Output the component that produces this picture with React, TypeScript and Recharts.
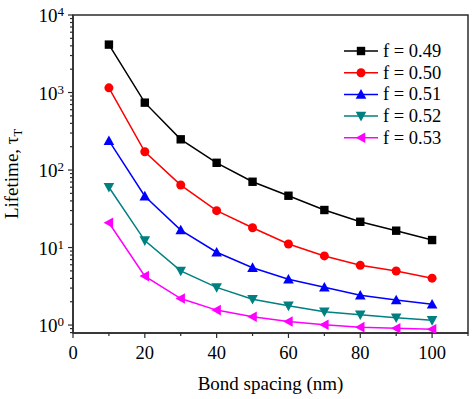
import React from "react";
import { LineChart, Line, XAxis, YAxis, ReferenceArea, Legend } from "recharts";

const spacing = [10, 20, 30, 40, 50, 60, 70, 80, 90, 100];
const f049 = [4150, 740, 249, 124, 70.6, 46.6, 30.5, 21.5, 16.5, 12.5];
const f050 = [1150, 172, 64, 29.9, 18, 11.1, 7.8, 5.9, 4.98, 4.03];
const f051 = [239, 46, 16.8, 8.7, 5.5, 3.9, 3.07, 2.42, 2.1, 1.85];
const f052 = [60, 12.3, 5.0, 3.06, 2.15, 1.77, 1.49, 1.36, 1.24, 1.15];
const f053 = [20.9, 4.28, 2.2, 1.56, 1.28, 1.11, 1.01, 0.94, 0.91, 0.885];

const xTicks = [0, 10, 20, 30, 40, 50, 60, 70, 80, 90, 100, 110];
const yTicks = [
  0.8, 0.9, 1, 2, 3, 4, 5, 6, 7, 8, 9, 10, 20, 30, 40, 50, 60, 70, 80, 90,
  100, 200, 300, 400, 500, 600, 700, 800, 900, 1000, 2000, 3000, 4000, 5000,
  6000, 7000, 8000, 9000, 10000,
];

const series = [
  { key: "f049", name: "f = 0.49", color: "#000000", shape: "square" },
  { key: "f050", name: "f = 0.50", color: "#ff0000", shape: "circle" },
  { key: "f051", name: "f = 0.51", color: "#0000ff", shape: "up" },
  { key: "f052", name: "f = 0.52", color: "#008080", shape: "down" },
  { key: "f053", name: "f = 0.53", color: "#ff00ff", shape: "left" },
];

const data = spacing.map((x, i) => ({
  x,
  f049: f049[i],
  f050: f050[i],
  f051: f051[i],
  f052: f052[i],
  f053: f053[i],
}));

const AXIS = "#2b2b2b";
const FONT = "'Liberation Serif', 'Times New Roman', serif";

function Marker({ cx, cy, shape, color }: any) {
  if (cx == null || cy == null) return null;
  if (shape === "square") {
    return <rect x={cx - 4.2} y={cy - 4.2} width={8.4} height={8.4} fill={color} />;
  }
  if (shape === "circle") {
    return <circle cx={cx} cy={cy} r={4.5} fill={color} />;
  }
  const s = 5.3;
  let pts = "";
  if (shape === "up") pts = `${cx},${cy - s} ${cx + s},${cy + s * 0.8} ${cx - s},${cy + s * 0.8}`;
  if (shape === "down") pts = `${cx},${cy + s} ${cx + s},${cy - s * 0.8} ${cx - s},${cy - s * 0.8}`;
  if (shape === "left") pts = `${cx - s},${cy} ${cx + s * 0.8},${cy - s} ${cx + s * 0.8},${cy + s}`;
  return <polygon points={pts} fill={color} />;
}

function YTick(props: any) {
  const { x, y, payload } = props;
  const lg = Math.log10(payload.value);
  const exp = Math.round(lg);
  const major = Math.abs(lg - exp) < 1e-6;
  return (
    <g>
      <line x1={x - (major ? 5 : 3)} x2={x} y1={y} y2={y} stroke={AXIS} strokeWidth={1.2} />
      {major && (
        <text x={x - 9} y={y + 7} textAnchor="end" fontSize={19} fontFamily={FONT} fill="#000">
          10
          <tspan fontSize={13} dy={-6}>
            {exp}
          </tspan>
        </text>
      )}
    </g>
  );
}

function XTick(props: any) {
  const { x, y, payload } = props;
  const major = payload.value % 20 === 0 && payload.value <= 100;
  return (
    <g>
      <line x1={x} x2={x} y1={y} y2={y + (major ? 5 : 3)} stroke={AXIS} strokeWidth={1.2} />
      {major && (
        <text x={x} y={y + 26} textAnchor="middle" fontSize={18.5} fontFamily={FONT} fill="#000">
          {payload.value}
        </text>
      )}
    </g>
  );
}

function YLabel({ viewBox }: any) {
  const cy = viewBox.y + viewBox.height / 2;
  const x = 18;
  return (
    <text
      x={x}
      y={cy}
      transform={`rotate(-90, ${x}, ${cy})`}
      textAnchor="middle"
      fontSize={19}
      fontFamily={FONT}
      fill="#000"
    >
      Lifetime, τ
      <tspan fontSize={12.5} dy={4}>
        T
      </tspan>
    </text>
  );
}

function LegendBox() {
  return (
    <svg width={120} height={110}>
      {series.map((s, i) => {
        const cy = 11 + i * 21.7;
        return (
          <g key={s.key}>
            <line x1={4} x2={38} y1={cy} y2={cy} stroke={s.color} strokeWidth={1.5} />
            <Marker cx={21} cy={cy} shape={s.shape} color={s.color} />
            <text x={43} y={cy + 6} fontSize={18.5} fontFamily={FONT} fill="#000">
              {s.name}
            </text>
          </g>
        );
      })}
    </svg>
  );
}

export default function App() {
  return (
    <div style={{ width: 474, height: 399, background: "#fff" }}>
      <style>{"body{margin:0}"}</style>
      <LineChart
        width={474}
        height={399}
        data={data}
        margin={{ top: 15, right: 6, bottom: 36, left: 13 }}
      >
        <XAxis
          dataKey="x"
          type="number"
          domain={[0, 110]}
          ticks={xTicks}
          interval={0}
          height={30}
          tickSize={0}
          tickMargin={0}
          tickLine={false}
          tick={<XTick />}
          axisLine={{ stroke: AXIS, strokeWidth: 1.5 }}
          label={{
            value: "Bond spacing (nm)",
            position: "insideBottom",
            offset: -27,
            fontSize: 19,
            fontFamily: FONT,
            fill: "#000",
          }}
        />
        <YAxis
          type="number"
          scale="log"
          domain={[0.79, 10000]}
          allowDataOverflow
          ticks={yTicks}
          interval={0}
          width={60}
          tickSize={0}
          tickMargin={0}
          tickLine={false}
          tick={<YTick />}
          axisLine={{ stroke: AXIS, strokeWidth: 1.5 }}
          label={<YLabel />}
        />
        <ReferenceArea
          x1={0}
          x2={110}
          y1={0.79}
          y2={10000}
          fill="none"
          stroke={AXIS}
          strokeWidth={1.5}
          ifOverflow="visible"
        />
        <Legend
          layout="vertical"
          align="center"
          verticalAlign="middle"
          content={<LegendBox />}
          wrapperStyle={{ top: 40, left: 340, width: 120, height: 110 }}
        />
        {series.map((s) => (
          <Line
            key={s.key}
            dataKey={s.key}
            name={s.name}
            type="linear"
            stroke={s.color}
            strokeWidth={1.5}
            isAnimationActive={false}
            dot={(p: any) => (
              <Marker key={`${s.key}-${p.index}`} cx={p.cx} cy={p.cy} shape={s.shape} color={s.color} />
            )}
            activeDot={false}
          />
        ))}
      </LineChart>
    </div>
  );
}
